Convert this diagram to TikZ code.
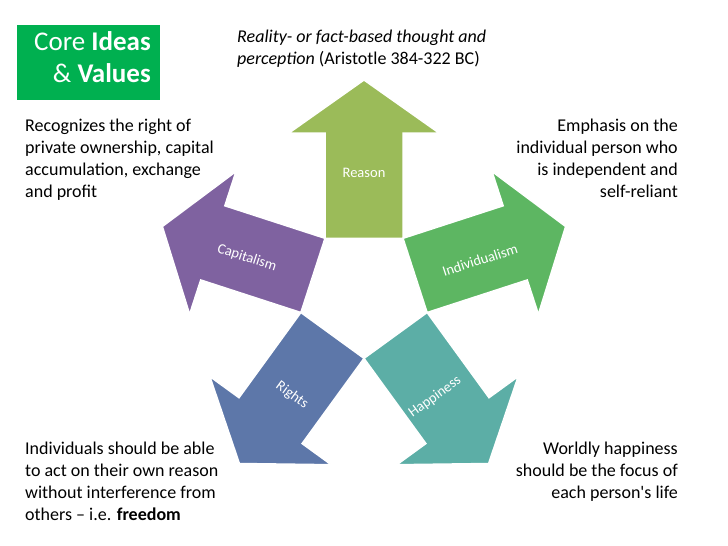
\documentclass[tikz,border=0pt]{standalone}
\usepackage{fontspec}
\setmainfont{Carlito}
\begin{document}
\begin{tikzpicture}[x=1pt,y=1pt,
  arr/.style={draw=white,line width=1.5pt,line join=miter},
  lab/.style={text=white,inner sep=1pt,font=\fontsize{14.5}{16}\selectfont},
  desc/.style={font=\fontsize{18}{22}\selectfont,inner sep=0pt}]
\useasboundingbox (0,0) rectangle (728,-546);
\definecolor{cR}{HTML}{9BBB59}
\definecolor{cI}{HTML}{5DB662}
\definecolor{cH}{HTML}{5CAEA6}
\definecolor{cRi}{HTML}{5D77A9}
\definecolor{cC}{HTML}{7F62A0}
\definecolor{tg}{HTML}{00B050}
\def\arrowpath{(-39,53.7) -- (39,53.7) -- (39,159) -- (75,159) -- (0,212) -- (-75,159) -- (-39,159) -- cycle}
\foreach \r/\c in {0/cR,-72/cI,-144/cH,144/cRi,72/cC}{
  \begin{scope}[shift={(364,-292)},rotate=\r]
    \fill[arr,fill=\c] \arrowpath;
  \end{scope}}
\node[lab] (reason) at (364,-173) {Reason};
\node[lab,rotate=18] (indiv) at (480,-260) {Individualism};
\node[lab,rotate=36] (happ) at (435,-397) {Happiness};
\node[lab,rotate=-36] (rights) at (292,-395) {Rights};
\node[lab,rotate=-18] (cap) at (247,-258) {Capitalism};
\fill[tg] (17,-25) rectangle (160,-100);
\node[text=white,align=right,anchor=north east,inner sep=0pt,font=\fontsize{27}{32}\selectfont] (title) at (151,-31) {Core \textbf{Ideas}\\\& \textbf{Values}};
\node[desc,align=left,anchor=north west] (top) at (237,-30) {\textit{Reality- or fact-based thought and}\\\textit{perception} (Aristotle 384-322 BC)};
\node[desc,align=left,anchor=north west] (tl) at (25,-119) {Recognizes the right of\\private ownership, capital\\accumulation, exchange\\and profit};
\node[desc,align=right,anchor=north east] (tr) at (678,-119) {Emphasis on the\\individual person who\\is independent and\\self-reliant};
\node[desc,align=left,anchor=north west] (bl) at (25,-442) {Individuals should be able\\to act on their own reason\\without interference from\\others -- i.e. \textbf{freedom}};
\node[desc,align=right,anchor=north east] (br) at (678,-442) {Worldly happiness\\should be the focus of\\each person\textquotesingle s life};
\end{tikzpicture}
\end{document}
